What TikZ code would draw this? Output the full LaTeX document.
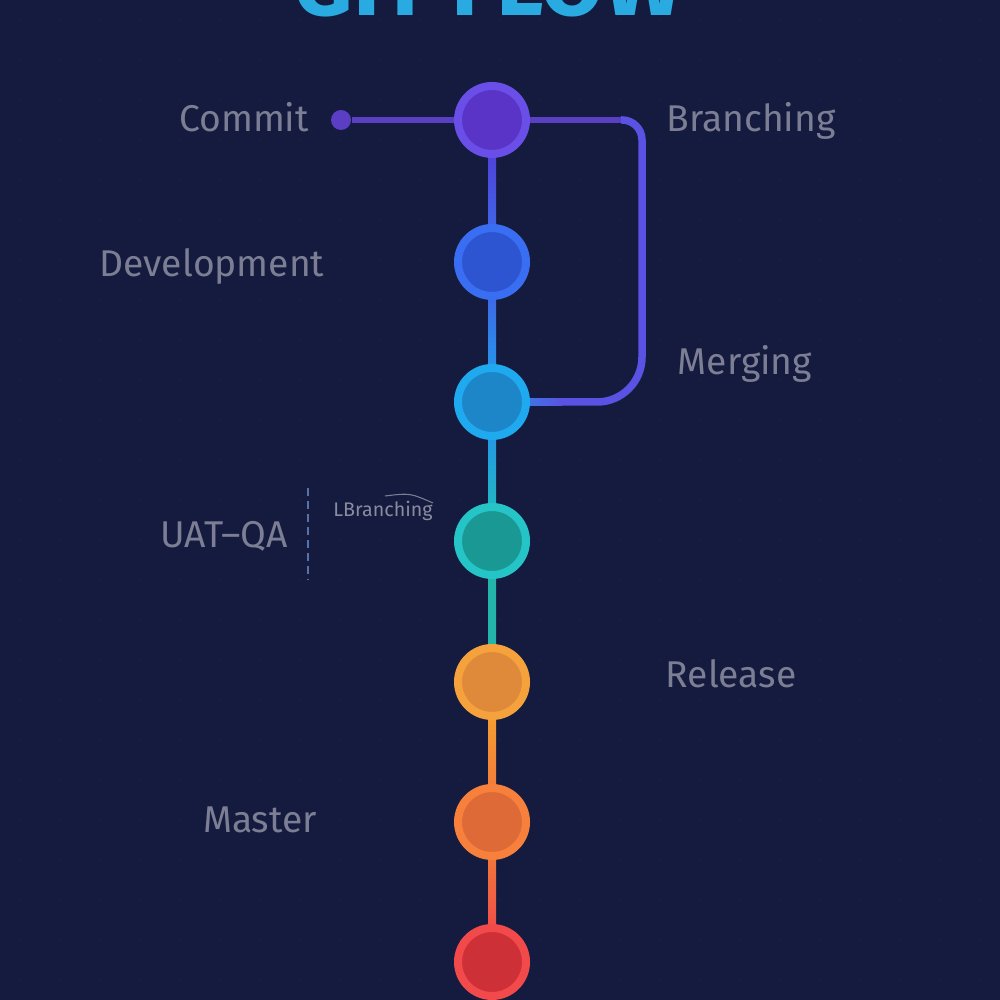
\documentclass[tikz,border=0pt]{standalone}
\usepackage{fontspec}
\setmainfont{Fira Sans}
\usetikzlibrary{calc}
\definecolor{bg}{HTML}{151B3F}
\definecolor{gridc}{HTML}{1D2550}
\definecolor{labc}{HTML}{7C7E93}
\definecolor{titc}{HTML}{29ABE2}
\definecolor{ra}{HTML}{6A4EE8}\definecolor{fa}{HTML}{5A34C6}
\definecolor{rb}{HTML}{3A6EF2}\definecolor{fb}{HTML}{2D55D2}
\definecolor{rc}{HTML}{1FAAF0}\definecolor{fc}{HTML}{1D86C8}
\definecolor{rd}{HTML}{25C4C6}\definecolor{fd}{HTML}{1A9994}
\definecolor{re}{HTML}{F6A23C}\definecolor{fe}{HTML}{DE8A3A}
\definecolor{rf}{HTML}{F6803C}\definecolor{ff}{HTML}{DE6A38}
\definecolor{rg}{HTML}{F24A4A}\definecolor{fg}{HTML}{CE3038}
\definecolor{la}{HTML}{5040D8}\definecolor{lb}{HTML}{3F66E8}
\definecolor{lc}{HTML}{2496E8}\definecolor{ld}{HTML}{22B8C0}
\definecolor{le}{HTML}{24B5AA}\definecolor{lf}{HTML}{F5A030}
\definecolor{lg}{HTML}{F27A3A}\definecolor{lh}{HTML}{F04C48}
\definecolor{brc}{HTML}{5A52E2}\definecolor{cmc}{HTML}{5A3EC4}
\tikzset{
  commitnode/.style={circle,minimum size=0.68cm,inner sep=0pt,line width=0.08cm},
  lab/.style={text=labc,font=\fontsize{10.6}{12}\selectfont,inner sep=0pt,anchor=base},
}
\begin{document}
\begin{tikzpicture}
\useasboundingbox (0,0) rectangle (10,10);
\fill[bg] (0,0) rectangle (10,10);
\foreach \i in {1,...,49}{\foreach \j in {1,...,49}{\fill[gridc] (\i*0.2,\j*0.2) circle (0.008);}}
\node[titc,font=\fontsize{26.3}{30}\bfseries\selectfont,anchor=base,inner sep=0pt] (title) at (4.88,9.84) {GIT FLOW};
% node positions
\coordinate (p1) at (4.92,8.80);
\coordinate (p2) at (4.92,7.38);
\coordinate (p3) at (4.92,5.98);
\coordinate (p4) at (4.92,4.59);
\coordinate (p5) at (4.92,3.18);
\coordinate (p6) at (4.92,1.78);
\coordinate (p7) at (4.92,0.38);
\coordinate (c1) at (6.42,8.80);
\coordinate (c2) at (6.42,5.98);
% connectors (drawn first, under the nodes)
\foreach \a/\b/\ct/\cb in {p1/p2/la/lb,p2/p3/lb/lc,p3/p4/lc/ld,p4/p5/le/le,p5/p6/lf/lg,p6/p7/lg/lh}{
  \shade[top color=\ct,bottom color=\cb] ($(\a)+(-0.04,-0.3)$) rectangle ($(\b)+(0.04,0.3)$);
}
\node[circle,fill=cmc,minimum size=0.2cm,inner sep=0pt] (dot) at (3.41,8.80) {};
\draw[cmc,line width=0.06cm] (dot) -- (p1);
\draw[cmc,line width=0.06cm] (p1) -- ($(c1)+(-0.2,0)$);
\draw[brc,line width=0.075cm] ($(c1)+(-0.21,0)$) -- ($(c1)+(-0.2,0)$) arc[start angle=90,end angle=0,radius=0.2] -- ($(c2)+(0,0.45)$) arc[start angle=0,end angle=-90,radius=0.45] -- ($(c2)+(-0.85,0)$);
\shade[left color=lc,right color=brc] ($(p3)+(0,-0.0375)$) rectangle ($(c2)+(-0.8,0.0375)$);
% nodes
\node[commitnode,draw=ra,fill=fa] (n1) at (p1) {};
\node[commitnode,draw=rb,fill=fb] (n2) at (p2) {};
\node[commitnode,draw=rc,fill=fc] (n3) at (p3) {};
\node[commitnode,draw=rd,fill=fd] (n4) at (p4) {};
\node[commitnode,draw=re,fill=fe] (n5) at (p5) {};
\node[commitnode,draw=rf,fill=ff] (n6) at (p6) {};
\node[commitnode,draw=rg,fill=fg] (n7) at (p7) {};
% labels
\node[lab] (lcommit) at (2.44,8.68) {Commit};
\node[lab] (lbranch) at (7.51,8.68) {Branching};
\node[lab] (ldev) at (2.12,7.23) {Development};
\node[lab] (lmerge) at (7.45,6.25) {Merging};
\node[lab] (luat) at (2.24,4.52) {UAT–QA};
\node[lab] (lrel) at (7.31,3.12) {Release};
\node[lab] (lmas) at (2.60,1.67) {Master};
\node[text=labc!90!white,font=\fontsize{5.6}{7}\fontseries{l}\selectfont,inner sep=0pt,anchor=base] (lsmall) at (3.83,4.83) {LBranching};
\coordinate (sw1) at (3.85,5.04);
\coordinate (sw2) at (4.33,4.97);
\draw[labc,line width=0.3pt] (sw1) .. controls (4.10,5.07) .. (sw2);
\coordinate (da) at (3.08,5.12);
\coordinate (db) at (3.08,4.20);
\draw[color={rgb,255:red,85;green,115;blue,170},line width=0.5pt,dash pattern=on 0.08cm off 0.05cm] (da) -- (db);
\end{tikzpicture}
\end{document}
